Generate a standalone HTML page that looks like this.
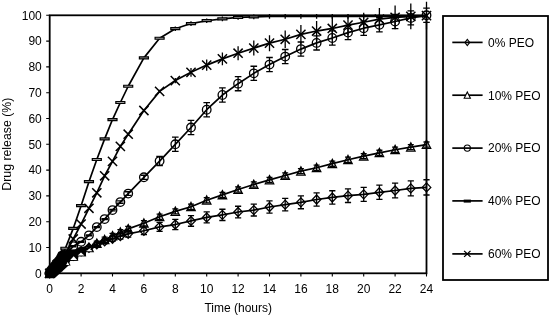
<!DOCTYPE html>
<html><head><meta charset="utf-8"><title>Drug release</title>
<style>
html,body{margin:0;padding:0;background:#fff;}
body{width:550px;height:315px;overflow:hidden;}
svg{display:block;}
text{font-family:"Liberation Sans",Arial,Helvetica,sans-serif;font-size:12px;fill:#000;}
.ax{fill:none;stroke:#000;stroke-width:1.8;}
.tk{fill:none;stroke:#000;stroke-width:1.1;}
.ln{fill:none;stroke:#000;stroke-width:1.7;stroke-linejoin:round;}
.eb{fill:none;stroke:#000;stroke-width:1.3;}
.mk{fill:none;stroke:#000;stroke-width:1.3;}
.mx{fill:none;stroke:#000;stroke-width:1.5;}
.md{fill:#999;stroke:#000;stroke-width:1.2;}
.lg{fill:none;stroke:#000;stroke-width:1.8;}
.lm{fill:#fff;stroke:#000;stroke-width:1.1;}
.lc{fill:none;stroke:#000;stroke-width:1.1;}
.ld{fill:#000;stroke:none;}
.lx{fill:none;stroke:#000;stroke-width:1.3;}
</style></head>
<body><svg width="550" height="315" viewBox="0 0 550 315">
<rect x="49.7" y="15.3" width="376.8" height="258" class="ax"/>
<path d="M46.2 273.3H49.7M46.2 247.5H49.7M46.2 221.7H49.7M46.2 195.9H49.7M46.2 170.1H49.7M46.2 144.3H49.7M46.2 118.5H49.7M46.2 92.7H49.7M46.2 66.9H49.7M46.2 41.1H49.7M46.2 15.3H49.7M49.7 273.3V276.6M81.1 273.3V276.6M112.5 273.3V276.6M143.9 273.3V276.6M175.3 273.3V276.6M206.7 273.3V276.6M238.1 273.3V276.6M269.5 273.3V276.6M300.9 273.3V276.6M332.3 273.3V276.6M363.7 273.3V276.6M395.1 273.3V276.6M426.5 273.3V276.6" class="tk"/>
<text x="41.8" y="277.6" text-anchor="end">0</text>
<text x="41.8" y="251.8" text-anchor="end">10</text>
<text x="41.8" y="226" text-anchor="end">20</text>
<text x="41.8" y="200.2" text-anchor="end">30</text>
<text x="41.8" y="174.4" text-anchor="end">40</text>
<text x="41.8" y="148.6" text-anchor="end">50</text>
<text x="41.8" y="122.8" text-anchor="end">60</text>
<text x="41.8" y="97" text-anchor="end">70</text>
<text x="41.8" y="71.2" text-anchor="end">80</text>
<text x="41.8" y="45.4" text-anchor="end">90</text>
<text x="41.8" y="19.6" text-anchor="end">100</text>
<text x="49.7" y="292.5" text-anchor="middle">0</text>
<text x="81.1" y="292.5" text-anchor="middle">2</text>
<text x="112.5" y="292.5" text-anchor="middle">4</text>
<text x="143.9" y="292.5" text-anchor="middle">6</text>
<text x="175.3" y="292.5" text-anchor="middle">8</text>
<text x="206.7" y="292.5" text-anchor="middle">10</text>
<text x="238.1" y="292.5" text-anchor="middle">12</text>
<text x="269.5" y="292.5" text-anchor="middle">14</text>
<text x="300.9" y="292.5" text-anchor="middle">16</text>
<text x="332.3" y="292.5" text-anchor="middle">18</text>
<text x="363.7" y="292.5" text-anchor="middle">20</text>
<text x="395.1" y="292.5" text-anchor="middle">22</text>
<text x="426.5" y="292.5" text-anchor="middle">24</text>
<text x="238.2" y="311.8" text-anchor="middle">Time (hours)</text>
<text transform="translate(10.5 144.2) rotate(-90)" text-anchor="middle" style="font-size:12.3px">Drug release (%)</text>
<polyline points="49.7,273.3 57.55,266.08 65.4,260.66 73.25,255.76 81.1,251.37 88.95,247.76 96.8,244.4 104.65,241.31 112.5,238.73 120.35,236.15 128.2,233.83 143.9,230.73 159.6,226.86 175.3,224.54 191,220.93 206.7,217.44 222.4,214.86 238.1,212.03 253.8,210.09 269.5,206.99 285.2,204.67 300.9,202.35 316.6,199.51 332.3,197.45 348,195.64 363.7,194.35 379.4,192.29 395.1,190.48 410.8,188.42 426.5,187.39" class="ln"/>
<path d="M65.4 260.01V261.3M62.3 260.01H68.5M62.3 261.3H68.5M73.25 254.79V256.72M70.15 254.79H76.35M70.15 256.72H76.35M81.1 250.08V252.66M78 250.08H84.2M78 252.66H84.2M88.95 246.15V249.37M85.85 246.15H92.05M85.85 249.37H92.05M96.8 242.47V246.34M93.7 242.47H99.9M93.7 246.34H99.9M104.65 239.05V243.57M101.55 239.05H107.75M101.55 243.57H107.75M112.5 236.15V241.31M109.4 236.15H115.6M109.4 241.31H115.6M120.35 233.25V239.05M117.25 233.25H123.45M117.25 239.05H123.45M128.2 230.6V237.05M125.1 230.6H131.3M125.1 237.05H131.3M143.9 226.86V234.6M140.8 226.86H147M140.8 234.6H147M159.6 222.35V231.38M156.5 222.35H162.7M156.5 231.38H162.7M175.3 219.38V229.7M172.2 219.38H178.4M172.2 229.7H178.4M191 215.61V226.24M187.9 215.61H194.1M187.9 226.24H194.1M206.7 211.97V222.91M203.6 211.97H209.8M203.6 222.91H209.8M222.4 209.24V220.49M219.3 209.24H225.5M219.3 220.49H225.5M238.1 206.25V217.8M235 206.25H241.2M235 217.8H241.2M253.8 204.16V216.02M250.7 204.16H256.9M250.7 216.02H256.9M269.5 200.91V213.08M266.4 200.91H272.6M266.4 213.08H272.6M285.2 198.43V210.92M282.1 198.43H288.3M282.1 210.92H288.3M300.9 195.95V208.75M297.8 195.95H304M297.8 208.75H304M316.6 192.96V206.07M313.5 192.96H319.7M313.5 206.07H319.7M332.3 190.74V204.16M329.2 190.74H335.4M329.2 204.16H335.4M348 188.78V202.5M344.9 188.78H351.1M344.9 202.5H351.1M363.7 187.33V201.37M360.6 187.33H366.8M360.6 201.37H366.8M379.4 185.12V199.46M376.3 185.12H382.5M376.3 199.46H382.5M395.1 183.15V197.81M392 183.15H398.2M392 197.81H398.2M410.8 180.94V195.9M407.7 180.94H413.9M407.7 195.9H413.9M426.5 179.75V195.02M423.4 179.75H429.6M423.4 195.02H429.6" class="eb"/>
<path d="M49.7 268.8L54 273.3L49.7 277.8L45.4 273.3ZM57.55 261.58L61.85 266.08L57.55 270.58L53.25 266.08ZM65.4 256.16L69.7 260.66L65.4 265.16L61.1 260.66ZM73.25 251.26L77.55 255.76L73.25 260.26L68.95 255.76ZM81.1 246.87L85.4 251.37L81.1 255.87L76.8 251.37ZM88.95 243.26L93.25 247.76L88.95 252.26L84.65 247.76ZM96.8 239.9L101.1 244.4L96.8 248.9L92.5 244.4ZM104.65 236.81L108.95 241.31L104.65 245.81L100.35 241.31ZM112.5 234.23L116.8 238.73L112.5 243.23L108.2 238.73ZM120.35 231.65L124.65 236.15L120.35 240.65L116.05 236.15ZM128.2 229.33L132.5 233.83L128.2 238.33L123.9 233.83ZM143.9 226.23L148.2 230.73L143.9 235.23L139.6 230.73ZM159.6 222.36L163.9 226.86L159.6 231.36L155.3 226.86ZM175.3 220.04L179.6 224.54L175.3 229.04L171 224.54ZM191 216.43L195.3 220.93L191 225.43L186.7 220.93ZM206.7 212.94L211 217.44L206.7 221.94L202.4 217.44ZM222.4 210.36L226.7 214.86L222.4 219.36L218.1 214.86ZM238.1 207.53L242.4 212.03L238.1 216.53L233.8 212.03ZM253.8 205.59L258.1 210.09L253.8 214.59L249.5 210.09ZM269.5 202.49L273.8 206.99L269.5 211.49L265.2 206.99ZM285.2 200.17L289.5 204.67L285.2 209.17L280.9 204.67ZM300.9 197.85L305.2 202.35L300.9 206.85L296.6 202.35ZM316.6 195.01L320.9 199.51L316.6 204.01L312.3 199.51ZM332.3 192.95L336.6 197.45L332.3 201.95L328 197.45ZM348 191.14L352.3 195.64L348 200.14L343.7 195.64ZM363.7 189.85L368 194.35L363.7 198.85L359.4 194.35ZM379.4 187.79L383.7 192.29L379.4 196.79L375.1 192.29ZM395.1 185.98L399.4 190.48L395.1 194.98L390.8 190.48ZM410.8 183.92L415.1 188.42L410.8 192.92L406.5 188.42ZM426.5 182.89L430.8 187.39L426.5 191.89L422.2 187.39Z" class="mk"/>
<polyline points="49.7,273.3 57.55,266.59 65.4,260.92 73.25,256.01 81.1,251.63 88.95,247.76 96.8,243.37 104.65,239.76 112.5,235.89 120.35,232.28 128.2,228.92 143.9,223.25 159.6,216.8 175.3,211.38 191,206.74 206.7,200.29 222.4,194.87 238.1,189.45 253.8,184.55 269.5,179.9 285.2,175.52 300.9,171.13 316.6,167.78 332.3,163.65 348,159.78 363.7,156.17 379.4,152.81 395.1,149.72 410.8,147.14 426.5,144.56" class="ln"/>
<path d="M65.4 260.14V261.69M62.4 260.14H68.4M62.4 261.69H68.4M73.25 254.85V257.18M70.25 254.85H76.25M70.25 257.18H76.25M81.1 250.08V253.18M78.1 250.08H84.1M78.1 253.18H84.1M88.95 245.82V249.69M85.95 245.82H91.95M85.95 249.69H91.95M96.8 241.05V245.69M93.8 241.05H99.8M93.8 245.69H99.8M104.65 237.18V242.34M101.65 237.18H107.65M101.65 242.34H107.65M112.5 233.31V238.47M109.5 233.31H115.5M109.5 238.47H115.5M120.35 229.7V234.86M117.35 229.7H123.35M117.35 234.86H123.35M128.2 226.34V231.5M125.2 226.34H131.2M125.2 231.5H131.2M143.9 220.67V225.83M140.9 220.67H146.9M140.9 225.83H146.9M159.6 214.22V219.38M156.6 214.22H162.6M156.6 219.38H162.6M175.3 208.8V213.96M172.3 208.8H178.3M172.3 213.96H178.3M191 204.16V209.32M188 204.16H194M188 209.32H194M206.7 197.71V202.87M203.7 197.71H209.7M203.7 202.87H209.7M222.4 192.29V197.45M219.4 192.29H225.4M219.4 197.45H225.4M238.1 186.87V192.03M235.1 186.87H241.1M235.1 192.03H241.1M253.8 181.97V187.13M250.8 181.97H256.8M250.8 187.13H256.8M269.5 177.32V182.48M266.5 177.32H272.5M266.5 182.48H272.5M285.2 172.94V178.1M282.2 172.94H288.2M282.2 178.1H288.2M300.9 168.55V173.71M297.9 168.55H303.9M297.9 173.71H303.9M316.6 165.2V170.36M313.6 165.2H319.6M313.6 170.36H319.6M332.3 161.07V166.23M329.3 161.07H335.3M329.3 166.23H335.3M348 157.2V162.36M345 157.2H351M345 162.36H351M363.7 153.59V158.75M360.7 153.59H366.7M360.7 158.75H366.7M379.4 150.23V155.39M376.4 150.23H382.4M376.4 155.39H382.4M395.1 147.14V152.3M392.1 147.14H398.1M392.1 152.3H398.1M410.8 144.56V149.72M407.8 144.56H413.8M407.8 149.72H413.8M426.5 141.98V147.14M423.5 141.98H429.5M423.5 147.14H429.5" class="eb"/>
<path d="M49.7 269L53.9 277.2L45.5 277.2ZM57.55 262.29L61.75 270.49L53.35 270.49ZM65.4 256.62L69.6 264.82L61.2 264.82ZM73.25 251.71L77.45 259.91L69.05 259.91ZM81.1 247.33L85.3 255.53L76.9 255.53ZM88.95 243.46L93.15 251.66L84.75 251.66ZM96.8 239.07L101 247.27L92.6 247.27ZM104.65 235.46L108.85 243.66L100.45 243.66ZM112.5 231.59L116.7 239.79L108.3 239.79ZM120.35 227.98L124.55 236.18L116.15 236.18ZM128.2 224.62L132.4 232.82L124 232.82ZM143.9 218.95L148.1 227.15L139.7 227.15ZM159.6 212.5L163.8 220.7L155.4 220.7ZM175.3 207.08L179.5 215.28L171.1 215.28ZM191 202.44L195.2 210.64L186.8 210.64ZM206.7 195.99L210.9 204.19L202.5 204.19ZM222.4 190.57L226.6 198.77L218.2 198.77ZM238.1 185.15L242.3 193.35L233.9 193.35ZM253.8 180.25L258 188.45L249.6 188.45ZM269.5 175.6L273.7 183.8L265.3 183.8ZM285.2 171.22L289.4 179.42L281 179.42ZM300.9 166.83L305.1 175.03L296.7 175.03ZM316.6 163.48L320.8 171.68L312.4 171.68ZM332.3 159.35L336.5 167.55L328.1 167.55ZM348 155.48L352.2 163.68L343.8 163.68ZM363.7 151.87L367.9 160.07L359.5 160.07ZM379.4 148.51L383.6 156.71L375.2 156.71ZM395.1 145.42L399.3 153.62L390.9 153.62ZM410.8 142.84L415 151.04L406.6 151.04ZM426.5 140.26L430.7 148.46L422.3 148.46Z" class="mk"/>
<polyline points="49.7,273.3 57.55,264.27 65.4,255.24 73.25,246.21 81.1,241.82 88.95,235.37 96.8,227.12 104.65,219.12 112.5,210.09 120.35,202.09 128.2,193.58 143.9,177.32 159.6,161.07 175.3,144.3 191,127.53 206.7,109.73 222.4,95.02 238.1,83.67 253.8,73.35 269.5,64.58 285.2,56.58 300.9,49.1 316.6,42.91 332.3,38 348,32.59 363.7,28.2 379.4,24.85 395.1,21.49 410.8,17.88 426.5,15.3" class="ln"/>
<path d="M49.7 272.78V273.82M46.4 272.78H53M46.4 273.82H53M57.55 263.75V264.79M54.25 263.75H60.85M54.25 264.79H60.85M65.4 254.72V255.76M62.1 254.72H68.7M62.1 255.76H68.7M73.25 245.69V246.73M69.95 245.69H76.55M69.95 246.73H76.55M81.1 241.31V242.34M77.8 241.31H84.4M77.8 242.34H84.4M88.95 234.86V235.89M85.65 234.86H92.25M85.65 235.89H92.25M96.8 226.6V227.63M93.5 226.6H100.1M93.5 227.63H100.1M104.65 218.6V219.64M101.35 218.6H107.95M101.35 219.64H107.95M112.5 209.32V210.86M109.2 209.32H115.8M109.2 210.86H115.8M120.35 200.93V203.25M117.05 200.93H123.65M117.05 203.25H123.65M128.2 191.77V195.38M124.9 191.77H131.5M124.9 195.38H131.5M143.9 175.26V179.39M140.6 175.26H147.2M140.6 179.39H147.2M159.6 156.43V165.71M156.3 156.43H162.9M156.3 165.71H162.9M175.3 137.21V151.4M172 137.21H178.6M172 151.4H178.6M191 120.44V134.62M187.7 120.44H194.3M187.7 134.62H194.3M206.7 102.63V116.82M203.4 102.63H210M203.4 116.82H210M222.4 87.93V102.12M219.1 87.93H225.7M219.1 102.12H225.7M238.1 76.58V90.77M234.8 76.58H241.4M234.8 90.77H241.4M253.8 66.25V80.44M250.5 66.25H257.1M250.5 80.44H257.1M269.5 57.48V71.67M266.2 57.48H272.8M266.2 71.67H272.8M285.2 49.49V63.68M281.9 49.49H288.5M281.9 63.68H288.5M300.9 42V56.19M297.6 42H304.2M297.6 56.19H304.2M316.6 35.81V50M313.3 35.81H319.9M313.3 50H319.9M332.3 30.91V45.1M329 30.91H335.6M329 45.1H335.6M348 25.49V39.68M344.7 25.49H351.3M344.7 39.68H351.3M363.7 21.11V35.3M360.4 21.11H367M360.4 35.3H367M379.4 17.75V31.94M376.1 17.75H382.7M376.1 31.94H382.7M395.1 14.4V28.59M391.8 14.4H398.4M391.8 28.59H398.4M410.8 10.78V24.97M407.5 10.78H414.1M407.5 24.97H414.1M426.5 8.21V22.4M423.2 8.21H429.8M423.2 22.4H429.8" class="eb"/>
<circle cx="49.7" cy="273.3" r="4.3" class="mk"/><circle cx="57.55" cy="264.27" r="4.3" class="mk"/><circle cx="65.4" cy="255.24" r="4.3" class="mk"/><circle cx="73.25" cy="246.21" r="4.3" class="mk"/><circle cx="81.1" cy="241.82" r="4.3" class="mk"/><circle cx="88.95" cy="235.37" r="4.3" class="mk"/><circle cx="96.8" cy="227.12" r="4.3" class="mk"/><circle cx="104.65" cy="219.12" r="4.3" class="mk"/><circle cx="112.5" cy="210.09" r="4.3" class="mk"/><circle cx="120.35" cy="202.09" r="4.3" class="mk"/><circle cx="128.2" cy="193.58" r="4.3" class="mk"/><circle cx="143.9" cy="177.32" r="4.3" class="mk"/><circle cx="159.6" cy="161.07" r="4.3" class="mk"/><circle cx="175.3" cy="144.3" r="4.3" class="mk"/><circle cx="191" cy="127.53" r="4.3" class="mk"/><circle cx="206.7" cy="109.73" r="4.3" class="mk"/><circle cx="222.4" cy="95.02" r="4.3" class="mk"/><circle cx="238.1" cy="83.67" r="4.3" class="mk"/><circle cx="253.8" cy="73.35" r="4.3" class="mk"/><circle cx="269.5" cy="64.58" r="4.3" class="mk"/><circle cx="285.2" cy="56.58" r="4.3" class="mk"/><circle cx="300.9" cy="49.1" r="4.3" class="mk"/><circle cx="316.6" cy="42.91" r="4.3" class="mk"/><circle cx="332.3" cy="38" r="4.3" class="mk"/><circle cx="348" cy="32.59" r="4.3" class="mk"/><circle cx="363.7" cy="28.2" r="4.3" class="mk"/><circle cx="379.4" cy="24.85" r="4.3" class="mk"/><circle cx="395.1" cy="21.49" r="4.3" class="mk"/><circle cx="410.8" cy="17.88" r="4.3" class="mk"/><circle cx="426.5" cy="15.3" r="4.3" class="mk"/>
<polyline points="49.7,273.3 57.55,261.69 65.4,248.27 73.25,228.41 81.1,205.7 88.95,181.71 96.8,159.52 104.65,138.88 112.5,119.53 120.35,102.5 128.2,86.25 143.9,57.87 159.6,38.26 175.3,28.72 191,23.56 206.7,20.72 222.4,18.91 238.1,17.36 253.8,16.85 269.5,16.33 285.2,16.33 300.9,16.33 316.6,16.33 332.3,16.33 348,16.33 363.7,16.33 379.4,16.33 395.1,16.33 410.8,16.33 426.5,16.33" class="ln"/>
<path d="M49.7 272.27V274.33M57.55 260.66V262.72M65.4 247.24V249.31M73.25 227.38V229.44M81.1 204.67V206.74M88.95 180.68V182.74M96.8 158.49V160.55M104.65 137.85V139.91M112.5 118.5V120.56M120.35 101.47V103.54M128.2 85.22V87.28M143.9 56.84V58.9M159.6 37.23V39.29M175.3 26.39V31.04M191 21.23V25.88M206.7 18.4V23.04M222.4 16.59V21.23M238.1 15.04V19.69M253.8 14.53V19.17M269.5 14.01V18.65M285.2 14.01V18.65M300.9 14.01V18.65M316.6 14.01V18.65M332.3 14.01V18.65M348 14.01V18.65M363.7 14.01V18.65M379.4 14.01V18.65M395.1 14.01V18.65M410.8 14.01V18.65M426.5 14.01V18.65" class="eb"/>
<path d="M45.2 272.3h9v2h-9ZM53.05 260.69h9v2h-9ZM60.9 247.27h9v2h-9ZM68.75 227.41h9v2h-9ZM76.6 204.7h9v2h-9ZM84.45 180.71h9v2h-9ZM92.3 158.52h9v2h-9ZM100.15 137.88h9v2h-9ZM108 118.53h9v2h-9ZM115.85 101.5h9v2h-9ZM123.7 85.25h9v2h-9ZM139.4 56.87h9v2h-9ZM155.1 37.26h9v2h-9ZM170.8 27.72h9v2h-9ZM186.5 22.56h9v2h-9ZM202.2 19.72h9v2h-9ZM217.9 17.91h9v2h-9ZM233.6 16.36h9v2h-9ZM249.3 15.85h9v2h-9Z" class="md"/>
<polyline points="49.7,273.3 57.55,264.27 65.4,253.95 73.25,238.99 81.1,224.02 88.95,208.28 96.8,192.8 104.65,175.78 112.5,161.33 120.35,146.36 128.2,134.24 143.9,110.5 159.6,91.41 175.3,80.57 191,72.32 206.7,65.09 222.4,58.9 238.1,53.23 253.8,48.07 269.5,43.16 285.2,39.29 300.9,34.39 316.6,31.04 332.3,28.46 348,25.1 363.7,22.27 379.4,19.17 395.1,17.36 410.8,16.33 426.5,15.56" class="ln"/>
<path d="M49.7 271.75V274.85M57.55 262.72V265.82M65.4 252.4V255.5M73.25 237.44V240.53M81.1 222.47V225.57M88.95 206.74V209.83M96.8 191.26V194.35M104.65 174.23V177.32M112.5 159.78V162.88M120.35 144.82V147.91M128.2 132.69V135.79M143.9 108.95V112.05M159.6 89.86V92.96M175.3 77.99V83.15M191 67.93V76.7M206.7 59.42V70.77M222.4 52.45V65.35M238.1 46.26V60.19M253.8 40.58V55.55M269.5 35.17V51.16M285.2 30.52V48.07M300.9 25.1V43.68M316.6 20.98V41.1M332.3 16.85V40.07M348 14.78V35.42M363.7 12.72V31.81M379.4 8.08V30.26M395.1 5.5V29.23M410.8 3.43V29.23M426.5 1.63V29.49" class="eb"/>
<path d="M45.1 268.7L54.3 277.9M54.3 268.7L45.1 277.9M52.95 259.67L62.15 268.87M62.15 259.67L52.95 268.87M60.8 249.35L70 258.55M70 249.35L60.8 258.55M68.65 234.39L77.85 243.59M77.85 234.39L68.65 243.59M76.5 219.42L85.7 228.62M85.7 219.42L76.5 228.62M84.35 203.68L93.55 212.88M93.55 203.68L84.35 212.88M92.2 188.2L101.4 197.4M101.4 188.2L92.2 197.4M100.05 171.18L109.25 180.38M109.25 171.18L100.05 180.38M107.9 156.73L117.1 165.93M117.1 156.73L107.9 165.93M115.75 141.76L124.95 150.96M124.95 141.76L115.75 150.96M123.6 129.64L132.8 138.84M132.8 129.64L123.6 138.84M139.3 105.9L148.5 115.1M148.5 105.9L139.3 115.1M155 86.81L164.2 96.01M164.2 86.81L155 96.01M170.7 75.97L179.9 85.17M179.9 75.97L170.7 85.17M186.4 67.72L195.6 76.92M195.6 67.72L186.4 76.92M202.1 60.49L211.3 69.69M211.3 60.49L202.1 69.69M217.8 54.3L227 63.5M227 54.3L217.8 63.5M233.5 48.63L242.7 57.83M242.7 48.63L233.5 57.83M249.2 43.47L258.4 52.67M258.4 43.47L249.2 52.67M264.9 38.56L274.1 47.76M274.1 38.56L264.9 47.76M280.6 34.69L289.8 43.89M289.8 34.69L280.6 43.89M296.3 29.79L305.5 38.99M305.5 29.79L296.3 38.99M312 26.44L321.2 35.64M321.2 26.44L312 35.64M327.7 23.86L336.9 33.06M336.9 23.86L327.7 33.06M343.4 20.5L352.6 29.7M352.6 20.5L343.4 29.7M359.1 17.67L368.3 26.87M368.3 17.67L359.1 26.87M374.8 14.57L384 23.77M384 14.57L374.8 23.77M390.5 12.76L399.7 21.96M399.7 12.76L390.5 21.96M406.2 11.73L415.4 20.93M415.4 11.73L406.2 20.93M421.9 10.96L431.1 20.16M431.1 10.96L421.9 20.16" class="mx"/>
<polygon points="45.3,278.3 45.3,269.3 46.3,268.3 56,256.6 58.3,252 61.1,250.4 70,249.8 76,249.3 78,247.5 84,246.5 86,246 86,256.3 78.5,256.3 77.8,260.8 70,261 68.6,265.6 54.6,278.3" fill="#000"/>
<polygon points="67.6,261.9 66.2,265 69.3,265" fill="#fff"/>
<polygon points="73.7,256.3 70.3,260 77.1,260" fill="#fff"/>
<polygon points="81.0,252.4 77.7,255.5 84.3,255.5" fill="#fff"/>
<polygon points="89.4,248.6 86.4,251.2 92.4,251.2" fill="#fff"/>
<rect x="443" y="16" width="105" height="264" class="lg"/>
<path d="M452.3 42.4H482.6" class="ln"/>
<path d="M467.3 39.3L469.7 42.4L467.3 45.5L464.90000000000003 42.4Z" class="lc"/>
<text x="488" y="46.7">0% PEO</text>
<path d="M452.3 95.2H482.6" class="ln"/>
<path d="M467.3 92.0L470.40000000000003 98.3L464.2 98.3Z" class="lm"/>
<text x="488" y="99.5">10% PEO</text>
<path d="M452.3 148.1H482.6" class="ln"/>
<circle cx="467.3" cy="148.1" r="3.1" class="lc"/>
<text x="488" y="152.4">20% PEO</text>
<path d="M452.3 200.9H482.6" class="ln"/>
<path d="M463.7 199.6h7.2v3h-7.2Z" class="ld"/>
<text x="488" y="205.2">40% PEO</text>
<path d="M452.3 253.9H482.6" class="ln"/>
<path d="M464.1 250.9L470.5 256.9M470.5 250.9L464.1 256.9" class="lx"/>
<text x="488" y="258.2">60% PEO</text>
</svg></body></html>
